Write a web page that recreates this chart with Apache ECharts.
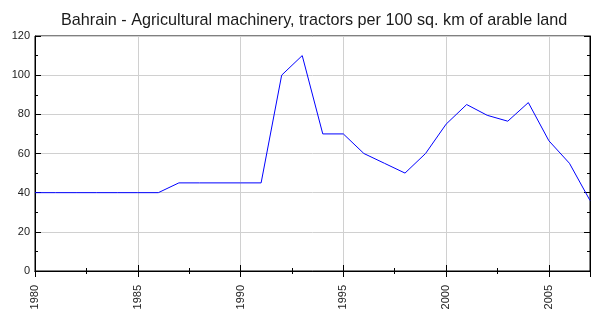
<!DOCTYPE html>
<html><head><meta charset="utf-8">
<script src="https://cdn.jsdelivr.net/npm/echarts@6/dist/echarts.min.js"></script>
<style>html,body{margin:0;padding:0;background:#fff}#c{width:600px;height:315px}</style>
</head><body><div id="c"></div>
<script>
var titleText = "Bahrain - Agricultural machinery, tractors per 100 sq. km of arable land";
var years = [1980,1981,1982,1983,1984,1985,1986,1987,1988,1989,1990,1991,1992,1993,1994,1995,1996,1997,1998,1999,2000,2001,2002,2003,2004,2005,2006,2007];
var values = [40,40,40,40,40,40,40,45,45,45,45,45,100,110,70,70,60,55,50,60,75,85,79.5,76.5,86,66.5,55,36];
var xTicks = [1980,1985,1990,1995,2000,2005];
var yTicks = [0,20,40,60,80,100,120];

var data = years.map(function(y,i){return [y, values[i]];});
var chart = echarts.init(document.getElementById('c'), null, {renderer:'canvas'});
var font = 'Liberation Sans, Arial, sans-serif';
var tickStyle = {show:true, inside:true, length:6, lineStyle:{color:'#000'}};
var minor = {show:true, splitNumber:2, length:3, lineStyle:{color:'#000'}};
chart.setOption({
  animation:false,
  title:{text:titleText, left:56, top:8,
    textStyle:{fontFamily:font, fontSize:16.2, fontWeight:'normal', color:'#1a1a1a'}},
  grid:{left:35, right:10, top:36, bottom:44, show:true, borderColor:'#000', borderWidth:1},
  xAxis:[{type:'value', min:1980, max:2007, interval:5,
    axisLine:{show:true, lineStyle:{color:'#000'}},
    axisTick:tickStyle, minorTick:minor,
    axisLabel:{rotate:90, margin:14, fontFamily:font, fontSize:11, color:'#222',
      showMaxLabel:false,
      formatter:function(v){return xTicks.indexOf(v)>=0 ? String(v) : '';}},
    splitLine:{show:true, lineStyle:{color:'#d0d0d0'}}},
   {type:'value', position:'top', min:1980, max:2007, interval:5,
    axisLine:{show:true, lineStyle:{color:'#000'}},
    axisTick:tickStyle, minorTick:minor, axisLabel:{show:false}, splitLine:{show:false}}],
  yAxis:[{type:'value', min:0, max:120, interval:20,
    axisLine:{show:true, lineStyle:{color:'#000'}},
    axisTick:tickStyle, minorTick:minor,
    axisLabel:{margin:5, fontFamily:font, fontSize:11, color:'#222',
      formatter:function(v){return yTicks.indexOf(v)>=0 ? String(v) : '';}},
    splitLine:{show:true, lineStyle:{color:'#d0d0d0'}}},
   {type:'value', position:'right', min:0, max:120, interval:20,
    axisLine:{show:true, lineStyle:{color:'#000'}},
    axisTick:tickStyle, minorTick:minor, axisLabel:{show:false}, splitLine:{show:false}}],
  series:[{type:'line', data:data, showSymbol:false, symbol:'none',
    lineStyle:{color:'#0000ff', width:1}, itemStyle:{color:'#0000ff'}}]
});
</script></body></html>
